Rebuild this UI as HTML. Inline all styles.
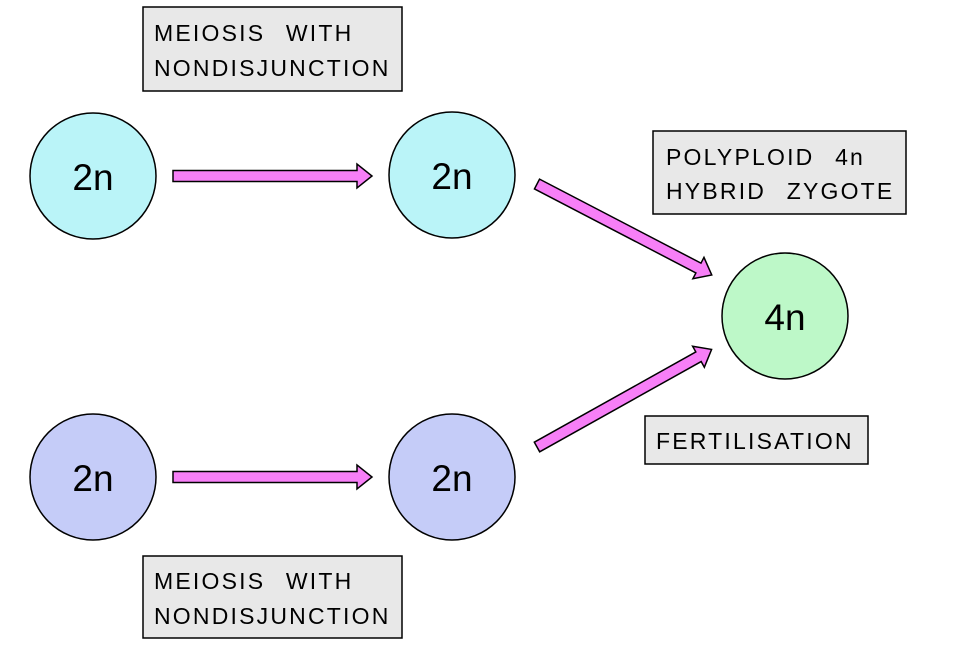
<!DOCTYPE html>
<html><head><style>body{margin:0;background:#fff}svg{display:block}text{font-family:"Liberation Sans",sans-serif;fill:#000}</style></head><body>
<svg width="953" height="647" viewBox="0 0 953 647" xmlns="http://www.w3.org/2000/svg">
<g stroke="#000" stroke-width="1.5">
<rect x="143" y="7" width="259" height="84" fill="#e8e8e8"/>
<rect x="653" y="131" width="253" height="83" fill="#e8e8e8"/>
<rect x="645" y="416" width="223" height="48" fill="#e8e8e8"/>
<rect x="143" y="556" width="259" height="82" fill="#e8e8e8"/>
<circle cx="93" cy="176" r="63" fill="#baf4f8"/>
<circle cx="452" cy="175" r="63" fill="#baf4f8"/>
<circle cx="93" cy="477" r="63" fill="#c5ccf8"/>
<circle cx="452" cy="477" r="63" fill="#c5ccf8"/>
<circle cx="785" cy="316" r="63" fill="#bdf8c8"/>
<g fill="#f77ff7">
<polygon transform="translate(173,176)" points="0,-5.5 184,-5.5 184,-12 199,0 184,12 184,5.5 0,5.5"/>
<polygon transform="translate(173,477)" points="0,-5.5 184,-5.5 184,-12 199,0 184,12 184,5.5 0,5.5"/>
<polygon transform="translate(537,184) rotate(27.5)" points="0,-5.5 182,-5.5 182,-12 197,0 182,12 182,5.5 0,5.5"/>
<polygon transform="translate(537,447) rotate(-29.2)" points="0,-5.5 185,-5.5 185,-12 200,0 185,12 185,5.5 0,5.5"/>
</g>
</g>
<g font-size="37" text-anchor="middle">
<text x="93" y="190">2n</text><text x="452" y="189">2n</text>
<text x="93" y="491">2n</text><text x="452" y="491">2n</text>
<text x="785" y="330">4n</text>
</g>
<g font-size="23" letter-spacing="2.2" word-spacing="12">
<text x="154" y="41">MEIOSIS WITH</text><text x="154" y="76">NONDISJUNCTION</text>
<text x="666" y="165">POLYPLOID 4n</text><text x="666" y="199">HYBRID ZYGOTE</text>
<text x="656" y="449">FERTILISATION</text>
<text x="154" y="589">MEIOSIS WITH</text><text x="154" y="624">NONDISJUNCTION</text>
</g>
</svg>
</body></html>
